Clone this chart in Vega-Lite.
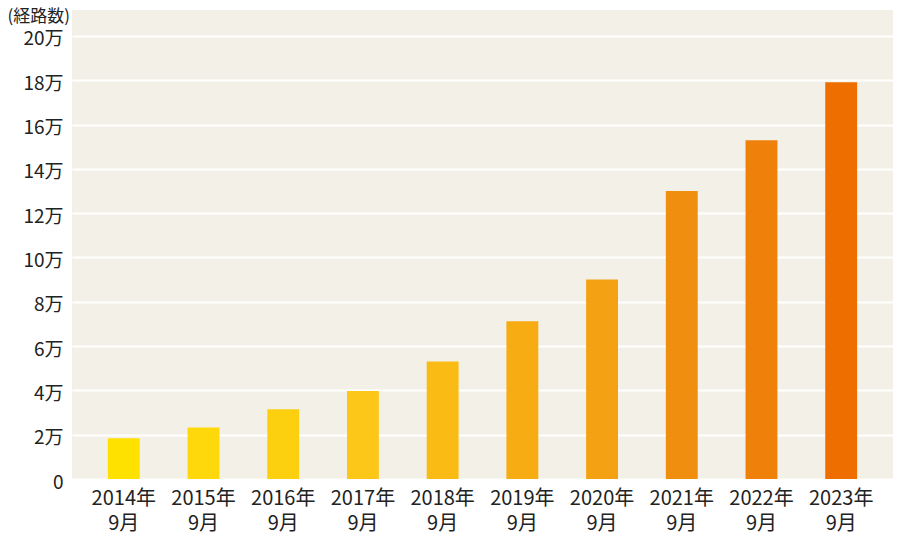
{
  "$schema": "https://vega.github.io/schema/vega-lite/v6.json",
  "width": 821,
  "height": 469,
  "autosize": {"type": "none"},
  "padding": {"left": 72, "top": 10, "right": 11, "bottom": 63},
  "background": "#ffffff",
  "config": {
    "view": {"fill": "#f3f0e7", "stroke": null},
    "font": "Noto Sans CJK JP"
  },
  "data": {
    "values": [
      {"year": "2014年9月", "routes": 18400},
      {"year": "2015年9月", "routes": 23300},
      {"year": "2016年9月", "routes": 31500},
      {"year": "2017年9月", "routes": 39700},
      {"year": "2018年9月", "routes": 53000},
      {"year": "2019年9月", "routes": 71200},
      {"year": "2020年9月", "routes": 90000},
      {"year": "2021年9月", "routes": 130000},
      {"year": "2022年9月", "routes": 152900},
      {"year": "2023年9月", "routes": 179100}
    ]
  },
  "mark": {"type": "bar"},
  "encoding": {
    "x": {
      "field": "year",
      "type": "nominal",
      "sort": null,
      "scale": {"paddingInner": 0.6, "paddingOuter": 0.45},
      "axis": {
        "title": null,
        "labelAngle": 0,
        "labelExpr": "[slice(datum.label, 0, 5), slice(datum.label, 5)]",
        "labelFontSize": 20,
        "labelColor": "#222222",
        "labelLineHeight": 25,
        "labelPadding": 9,
        "ticks": false,
        "domain": false
      }
    },
    "y": {
      "field": "routes",
      "type": "quantitative",
      "scale": {"domain": [0, 211700], "nice": false},
      "axis": {
        "values": [0, 20000, 40000, 60000, 80000, 100000, 120000, 140000, 160000, 180000, 200000],
        "labelExpr": "datum.value == 0 ? '0' : (datum.value / 10000) + '万'",
        "labelFontSize": 19,
        "labelColor": "#222222",
        "labelPadding": 9,
        "labelOffset": 3,
        "ticks": false,
        "domain": false,
        "grid": true,
        "gridColor": "#ffffff",
        "gridWidth": 2,
        "title": "(経路数)",
        "titleAngle": 0,
        "titleAlign": "left",
        "titleBaseline": "middle",
        "titleX": -65,
        "titleY": 6,
        "titleFontSize": 17,
        "titleFontWeight": "normal",
        "titleColor": "#222222"
      }
    },
    "color": {
      "field": "year",
      "type": "nominal",
      "sort": null,
      "legend": null,
      "scale": {
        "range": ["#ffe100", "#fed80a", "#fdd00f", "#fcc718", "#fabc14", "#f6ac12", "#f4a213", "#f08e10", "#ef800a", "#ee6e00"]
      }
    }
  }
}
